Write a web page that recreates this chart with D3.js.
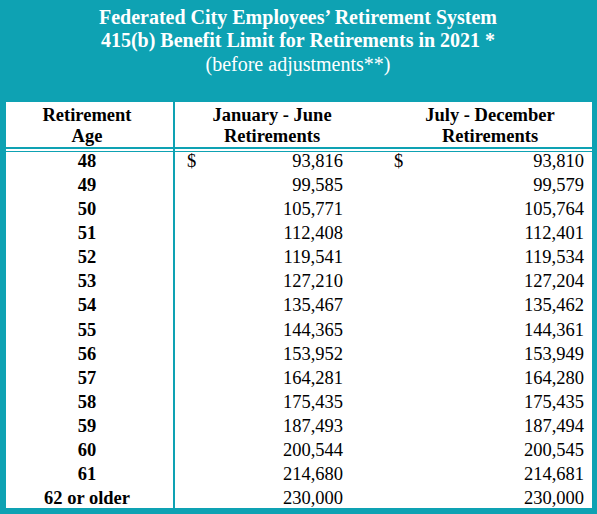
<!DOCTYPE html>
<html>
<head>
<meta charset="utf-8">
<script src="https://cdn.jsdelivr.net/npm/d3@7"></script>
<style>
body { margin: 0; background: #fff; }
</style>
</head>
<body>
<svg id="chart" width="597" height="514"></svg>
<script>
var ages = ["48","49","50","51","52","53","54","55","56","57","58","59","60","61","62 or older"],
	janJune = [93816,99585,105771,112408,119541,127210,135467,144365,153952,164281,175435,187493,200544,214680,230000],
	julDec = [93810,99579,105764,112401,119534,127204,135462,144361,153949,164280,175435,187494,200545,214681,230000],
	titleLines = ["Federated City Employees\u2019 Retirement System", "415(b) Benefit Limit for Retirements in 2021 *", "(before adjustments**)"],
	headers = [["Retirement","Age"],["January - June","Retirements"],["July - December","Retirements"]];

var teal = "#0ea2b3",
	font = "Liberation Serif, Times New Roman, serif",
	svg = d3.select("#chart"),
	fmt = d3.format(",");

svg.append("rect").attr("width", 597).attr("height", 514).attr("fill", teal);
svg.append("rect").attr("x", 6).attr("y", 102).attr("width", 586).attr("height", 406).attr("fill", "#fff");

// title
svg.selectAll("text.title").data(titleLines).enter().append("text")
	.attr("x", 298).attr("y", function(d, i){ return [24, 47, 71][i]; })
	.attr("text-anchor", "middle").attr("fill", "#fff")
	.attr("font-family", font).attr("font-size", 20)
	.attr("font-weight", function(d, i){ return i < 2 ? "bold" : "normal"; })
	.text(function(d){ return d; });

// header separators
svg.append("rect").attr("x", 6).attr("y", 147).attr("width", 586).attr("height", 2).attr("fill", teal);
svg.append("rect").attr("x", 6).attr("y", 151).attr("width", 586).attr("height", 1).attr("fill", teal);
svg.append("rect").attr("x", 173).attr("y", 102).attr("width", 2).attr("height", 406).attr("fill", teal);

var colCenter = [87, 272, 490];
headers.forEach(function(h, c){
	h.forEach(function(line, k){
		svg.append("text").attr("x", colCenter[c]).attr("y", 121 + k * 21)
			.attr("text-anchor", "middle").attr("font-family", font)
			.attr("font-size", 18.5).attr("font-weight", "bold").attr("fill", "#000")
			.text(line);
	});
});

var y = d3.scalePoint().domain(ages).range([167, 504]);

var rows = svg.selectAll("g.row").data(ages).enter().append("g")
	.attr("transform", function(d){ return "translate(0," + y(d) + ")"; })
	.attr("font-family", font).attr("font-size", 18.5).attr("fill", "#000");

rows.append("text").attr("x", colCenter[0]).attr("text-anchor", "middle")
	.attr("font-weight", "bold").text(function(d){ return d; });
rows.append("text").attr("x", 343).attr("text-anchor", "end")
	.text(function(d, i){ return fmt(janJune[i]); });
rows.append("text").attr("x", 584).attr("text-anchor", "end")
	.text(function(d, i){ return fmt(julDec[i]); });
rows.filter(function(d, i){ return i === 0; }).each(function(){
	d3.select(this).append("text").attr("x", 187).text("$");
	d3.select(this).append("text").attr("x", 394).text("$");
});
</script>
</body>
</html>
